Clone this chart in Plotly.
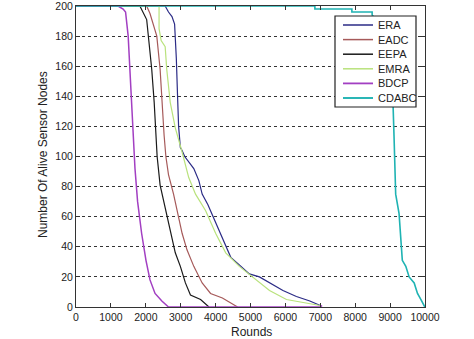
import plotly.graph_objects as go

era_x = [0, 2555, 2650, 2750, 2825, 2850, 2875, 2910, 2940, 2990, 3040, 3115, 3375, 3520, 3615, 3780, 3925, 4100, 4290, 4435, 4680, 4965, 5255, 5545, 5930, 6315, 6700, 7000]
era_y = [200, 200, 196, 193, 188, 178, 165, 140, 120, 106, 104, 100, 92, 84, 75, 68, 60, 51, 40, 33, 28, 22, 20, 16, 11, 7, 4, 1]

eadc_x = [0, 2025, 2120, 2315, 2410, 2460, 2525, 2575, 2650, 2795, 2940, 3040, 3180, 3375, 3615, 3855, 4195, 4435, 4630]
eadc_y = [200, 200, 195, 180, 158, 136, 114, 100, 88, 75, 60, 49, 38, 27, 16, 9, 6, 3, 0]

eepa_x = [0, 1830, 2025, 2075, 2170, 2240, 2285, 2325, 2410, 2555, 2700, 2845, 2990, 3135, 3280, 3570, 3810]
eepa_y = [200, 200, 191, 180, 158, 136, 114, 100, 81, 66, 49, 36, 27, 16, 8, 5, 0]

emra_x = [0, 2380, 2380, 2440, 2555, 2600, 2700, 2845, 3040, 3230, 3425, 3715, 4000, 4290, 4680, 5160, 5545, 6030, 6510, 6990]
emra_y = [200, 200, 185, 177, 173, 158, 136, 119, 103, 86, 75, 64, 49, 36, 27, 18, 11, 5, 3, 1]

bdcp_x = [0, 1205, 1350, 1420, 1495, 1545, 1590, 1640, 1690, 1765, 1880, 2005, 2120, 2265, 2460, 2650, 7000, 7050]
bdcp_y = [200, 200, 198, 196, 180, 158, 136, 114, 92, 70, 49, 31, 18, 9, 4, 0, 0, 1]

cdabc_x = [0, 6845, 6845, 7905, 7905, 8485, 8485, 8630, 8700, 9026, 9065, 9112, 9160, 9257, 9305, 9350, 9450, 9545, 9690, 9785, 9880, 9995]
cdabc_y = [200, 200, 198, 198, 196, 196, 194, 190, 188, 160, 149, 114, 75, 62, 44, 31, 27, 20, 16, 9, 5, 0]

x_ticks = list(range(0, 10001, 1000))
y_ticks = list(range(0, 201, 20))

names = ["ERA", "EADC", "EEPA", "EMRA", "BDCP", "CDABC"]
colors = ["#2b2b86", "#a65a5a", "#1a1a1a", "#b9e27c", "#a23fc2", "#1fb3b3"]
widths = [1.2, 1.2, 1.2, 1.2, 1.5, 1.6]
series = [(era_x, era_y), (eadc_x, eadc_y), (eepa_x, eepa_y), (emra_x, emra_y), (bdcp_x, bdcp_y), (cdabc_x, cdabc_y)]

fig = go.Figure()
for n, c, w, (xs, ys) in zip(names, colors, widths, series):
    fig.add_trace(go.Scatter(x=xs, y=ys, mode="lines", name=n,
                             line=dict(color=c, width=w), showlegend=False))

font = "Liberation Sans, Arial, sans-serif"

# manual legend (paper coordinates)
W, H = 474, 339
L, R, T, B = 76, 49, 6, 32
pw, ph = W - L - R, H - T - B
def px(xp):
    return (xp - L) / pw
def py(yp):
    return (H - B - yp) / ph

shapes = [dict(type="rect", xref="paper", yref="paper",
               x0=px(335), x1=px(416), y0=py(107), y1=py(16),
               line=dict(color="#222", width=1.2), fillcolor="white", layer="above")]
annotations = []
for i, (n, c, w) in enumerate(zip(names, colors, widths)):
    yy = 25 + i * 14.6
    shapes.append(dict(type="line", xref="paper", yref="paper",
                       x0=px(343), x1=px(373), y0=py(yy), y1=py(yy),
                       line=dict(color=c, width=w + 0.3), layer="above"))
    annotations.append(dict(xref="paper", yref="paper", x=px(376), y=py(yy),
                            xanchor="left", yanchor="middle", text=n, showarrow=False,
                            font=dict(size=11, color="#222", family=font)))

# axis titles as annotations
annotations.append(dict(xref="paper", yref="paper", x=px(251), y=py(332),
                        xanchor="center", yanchor="middle", text="Rounds", showarrow=False,
                        font=dict(size=12, color="#222", family=font)))
annotations.append(dict(xref="paper", yref="paper", x=px(43), y=py(155),
                        xanchor="center", yanchor="middle", text="Number Of Alive Sensor Nodes",
                        textangle=-90, showarrow=False,
                        font=dict(size=12, color="#222", family=font)))

fig.update_layout(
    width=W, height=H,
    margin=dict(l=L, r=R, t=T, b=B),
    plot_bgcolor="white", paper_bgcolor="white",
    font=dict(family=font, size=10.5, color="#222"),
    showlegend=False,
    shapes=shapes, annotations=annotations,
)
fig.update_xaxes(range=[0, 10000], tickvals=x_ticks, ticktext=[str(v) for v in x_ticks],
                 showgrid=False, zeroline=False, automargin=False,
                 showline=True, linecolor="#333", linewidth=1, mirror="ticks",
                 ticks="inside", ticklen=4, tickcolor="#333", ticklabeloverflow="allow")
fig.update_yaxes(range=[0, 200], tickvals=y_ticks, ticktext=[str(v) for v in y_ticks],
                 showgrid=True, gridcolor="#333",
                 griddash="dot", gridwidth=1, zeroline=False, automargin=False,
                 showline=True, linecolor="#333", linewidth=1, mirror="ticks",
                 ticks="inside", ticklen=4, tickcolor="#333", ticklabeloverflow="allow")

fig.write_html("out.html")
